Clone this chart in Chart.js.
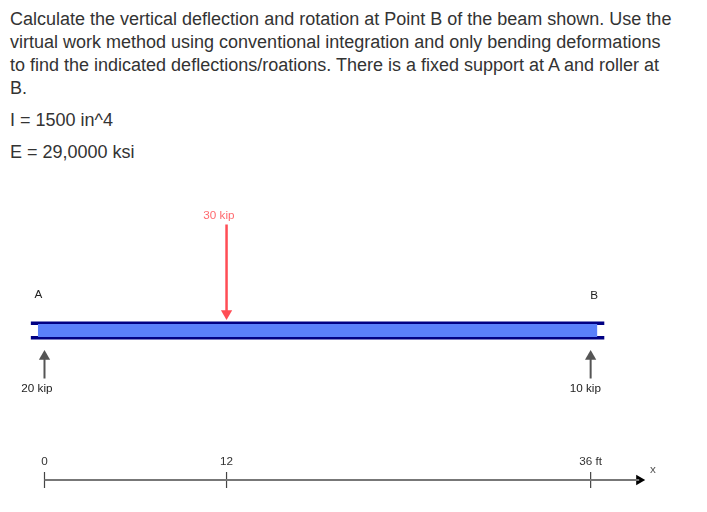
<!DOCTYPE html>
<html>
<head>
<meta charset="utf-8">
<title>Beam</title>
<script src="https://cdn.jsdelivr.net/npm/chart.js@4"></script>
<style>
    html, body { margin: 0; padding: 0; background: #fff; }
    #page { position: relative; width: 707px; height: 512px; overflow: hidden; }
    #texto { position: absolute; left: 10px; top: 0; width: 690px; color: #333; font: 18px/23px "Liberation Sans", Arial, sans-serif; white-space: nowrap; }
    #texto div { position: absolute; left: 0; }
    #canvasBox { position: absolute; left: 0; top: 0; width: 707px; height: 512px; }
</style>
</head>
<body>
<div id="page">
    <div id="texto">
        <div style="top: 8px;">Calculate the vertical deflection and rotation at Point B of the beam shown. Use the<br>virtual work method using conventional integration and only bending deformations<br>to find the indicated deflections/roations. There is a fixed support at A and roller at<br>B.</div>
        <div style="top: 109px;">I = 1500 in^4</div>
        <div style="top: 141px;">E = 29,0000 ksi</div>
    </div>
    <div id="canvasBox"><canvas id="grafico"></canvas></div>
</div>
<script>
// Beam data (feet and kip)
const stations = [0, 12, 36];
const stationLabels = ['0', '12', '36 ft'];
const supportAt = [0, 36];
const supportNames = ['A', 'B'];
const reactionKip = [20, 10];
const loadAt = [12];
const loadKip = [30];
const beamEnds = [-0.9, 36.9];
const webEnds = [-0.43, 36.43];
const axisEnd = 39.2;

// Schematic levels of the sketch, 0 is the beam centre line
const nivel = {
    flange: 7.3,
    loadTop: 106, loadTip: 17, loadHead: 17.5,
    reactionTail: -48, reactionHead: -26,
    nameA: 36, nameB: 35, reactionLabel: -58,
    axis: -149.5, tickHalf: 8, stationLabel: -131, xLabel: -139
};

const AZUL = '#000083';
const VERMELHO = '#ff4d55';
const CINZA = '#555555';

function segmento(x1, y1, x2, y2, cor, largura) {
    return {
        data: [{ x: x1, y: y1 }, { x: x2, y: y2 }],
        borderColor: cor,
        borderWidth: largura,
        pointRadius: 0,
        borderCapStyle: 'butt'
    };
}

function ponta(x, y, cor, rotacao, raio) {
    return {
        data: [{ x: x, y: y }],
        pointStyle: 'triangle',
        pointRadius: raio,
        pointRotation: rotacao,
        pointBackgroundColor: cor,
        pointBorderColor: cor,
        pointBorderWidth: 0,
        showLine: false
    };
}

const datasets = [];

// Beam: web first, flanges on top
datasets.push(segmento(webEnds[0], 0, webEnds[1], 0, '#5a80fa', 13));
datasets.push(segmento(beamEnds[0], nivel.flange, beamEnds[1], nivel.flange, AZUL, 3.4));
datasets.push(segmento(beamEnds[0], -nivel.flange, beamEnds[1], -nivel.flange, AZUL, 3.4));

// Point load
loadAt.forEach(x => {
    datasets.push(segmento(x, nivel.loadTop, x, nivel.loadHead, VERMELHO, 2.5));
    datasets.push(ponta(x, nivel.loadTip, VERMELHO, 180, 6.5));
});

// Reactions
supportAt.forEach(x => {
    datasets.push(segmento(x, nivel.reactionTail, x, nivel.reactionHead, CINZA, 2));
    datasets.push(ponta(x, nivel.reactionHead, CINZA, 0, 6.5));
});

// Number line at the bottom
datasets.push(segmento(stations[0], nivel.axis, axisEnd, nivel.axis, '#777777', 2));
stations.forEach(x => {
    datasets.push(segmento(x, nivel.axis + nivel.tickHalf, x, nivel.axis - nivel.tickHalf, '#444444', 1.2));
});
datasets.push(ponta(axisEnd, nivel.axis, '#000000', 90, 6));

// Labels are placed through the scales of the chart
const rotulos = {
    id: 'rotulos',
    afterDatasetsDraw(chart) {
        const c = chart.ctx;
        const sx = chart.scales.x;
        const sy = chart.scales.y;

        function escreve(texto, x, y, cor) {
            c.fillStyle = cor;
            c.fillText(texto, sx.getPixelForValue(x), sy.getPixelForValue(y));
        }

        c.save();
        c.font = '11.7px "Liberation Sans", Arial, sans-serif';
        c.textAlign = 'center';
        c.textBaseline = 'middle';

        loadAt.forEach((x, i) => escreve(loadKip[i] + ' kip', x - 0.5, nivel.loadTop + 9, '#ff6a6f'));
        supportAt.forEach((x, i) => {
            escreve(supportNames[i], x + (i === 0 ? -0.4 : 0.23), i === 0 ? nivel.nameA : nivel.nameB, '#222222');
            escreve(reactionKip[i] + ' kip', x + (i === 0 ? -0.5 : -0.35), nivel.reactionLabel, '#222222');
        });
        stations.forEach((x, i) => escreve(stationLabels[i], x, nivel.stationLabel, '#333333'));
        escreve('x', axisEnd + 0.9, nivel.xLabel, '#555555');
        c.restore();
    }
};

new Chart(document.getElementById('grafico').getContext('2d'), {
    type: 'line',
    data: { datasets: datasets },
    options: {
        responsive: true,
        maintainAspectRatio: false,
        animation: false,
        events: [],
        layout: { padding: 0, autoPadding: false },
        scales: {
            x: { type: 'linear', display: false, min: -2.933, max: 43.67 },
            y: { type: 'linear', display: false, min: -181.5, max: 330.5 }
        },
        plugins: {
            legend: { display: false },
            tooltip: { enabled: false },
            title: { display: false }
        }
    },
    plugins: [rotulos]
});
</script>
</body>
</html>
